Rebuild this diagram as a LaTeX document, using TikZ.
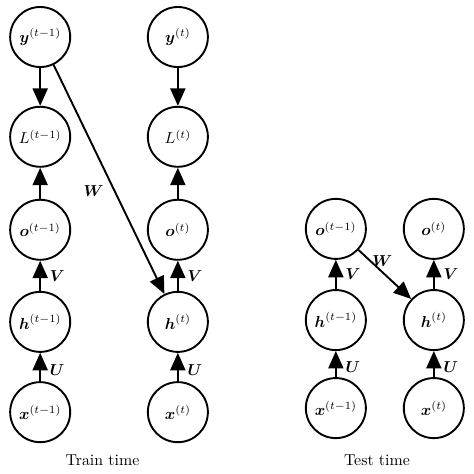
\documentclass[tikz,border=0pt]{standalone}
\usepackage{amsmath}
\usetikzlibrary{arrows.meta}
\begin{document}
\begin{tikzpicture}[
    neuron/.style={circle, draw, line width=1.2pt, minimum size=1.33cm, inner sep=0pt},
    flow/.style={line width=1.2pt, -{Triangle[length=11pt, width=9.5pt]}},
    weight/.style={right, inner sep=0pt, xshift=5.5pt}]
  \useasboundingbox (0, 0) rectangle (10.5, -10.5);
  % train time
  \node[neuron] (y1) at (0.89, -0.82) {$\boldsymbol{y}^{(t-1)}$};
  \node[neuron] (L1) at (0.89, -3.03) {$L^{(t-1)}$};
  \node[neuron] (o1) at (0.89, -5.09) {$\boldsymbol{o}^{(t-1)}$};
  \node[neuron] (h1) at (0.89, -7.13) {$\boldsymbol{h}^{(t-1)}$};
  \node[neuron] (x1) at (0.89, -9.13) {$\boldsymbol{x}^{(t-1)}$};
  \node[neuron] (y2) at (3.94, -0.82) {$\boldsymbol{y}^{(t)}$};
  \node[neuron] (L2) at (3.94, -3.03) {$L^{(t)}$};
  \node[neuron] (o2) at (3.94, -5.09) {$\boldsymbol{o}^{(t)}$};
  \node[neuron] (h2) at (3.94, -7.13) {$\boldsymbol{h}^{(t)}$};
  \node[neuron] (x2) at (3.94, -9.13) {$\boldsymbol{x}^{(t)}$};
  \draw[flow] (y1) -- (L1);
  \draw[flow] (o1) -- (L1);
  \draw[flow] (h1) -- node[weight] {$\boldsymbol{V}$} (o1);
  \draw[flow] (x1) -- node[weight, pos=0.4] {$\boldsymbol{U}$} (h1);
  \draw[flow] (y2) -- (L2);
  \draw[flow] (o2) -- (L2);
  \draw[flow] (h2) -- node[weight] {$\boldsymbol{V}$} (o2);
  \draw[flow] (x2) -- node[weight, pos=0.4] {$\boldsymbol{U}$} (h2);
  \draw[flow] (y1) -- node[pos=0.55, left, xshift=-3pt] {$\boldsymbol{W}$} (h2);
  \node (train) at (2.27, -10.19) {Train time};
  % test time
  \node[neuron] (o3) at (7.44, -5.07) {$\boldsymbol{o}^{(t-1)}$};
  \node[neuron] (h3) at (7.44, -7.09) {$\boldsymbol{h}^{(t-1)}$};
  \node[neuron] (x3) at (7.44, -9.04) {$\boldsymbol{x}^{(t-1)}$};
  \node[neuron] (o4) at (9.61, -5.07) {$\boldsymbol{o}^{(t)}$};
  \node[neuron] (h4) at (9.61, -7.09) {$\boldsymbol{h}^{(t)}$};
  \node[neuron] (x4) at (9.61, -9.04) {$\boldsymbol{x}^{(t)}$};
  \draw[flow] (h3) -- node[weight] {$\boldsymbol{V}$} (o3);
  \draw[flow] (x3) -- node[weight, pos=0.4] {$\boldsymbol{U}$} (h3);
  \draw[flow] (h4) -- node[weight] {$\boldsymbol{V}$} (o4);
  \draw[flow] (x4) -- node[weight, pos=0.4] {$\boldsymbol{U}$} (h4);
  \draw[flow] (o3) -- node[pos=0.45, above, inner sep=3pt] {$\boldsymbol{W}$} (h4);
  \node (test) at (8.35, -10.19) {Test time};
\end{tikzpicture}
\end{document}
